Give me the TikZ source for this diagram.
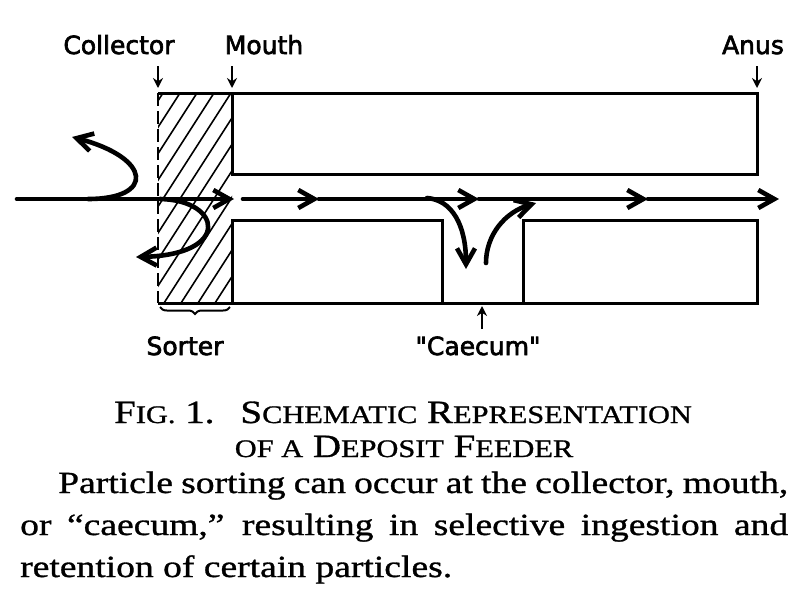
\documentclass[tikz,border=0pt]{standalone}
\usepackage{fontspec}
\setmainfont{Liberation Serif}
\newfontfamily\capfont[FakeStretch=1.2,FakeBold=1.0]{Liberation Serif}
\newfontfamily\bodyfont[FakeStretch=1.22,FakeBold=1.0]{Liberation Serif}
\newfontfamily\labfont[FakeBold=2.5]{DejaVu Sans}
\usetikzlibrary{arrows.meta,decorations.pathreplacing}
\newcommand\bigC[1]{{\fontsize{32.5}{32.5}\selectfont #1}}
\newcommand\smC[1]{{\fontsize{25.3}{25.3}\selectfont #1}}
\newcommand\tightsp{\spaceskip=0.25em plus 1em minus 0.1em\relax}
\begin{document}
\begin{tikzpicture}[x=1pt,y=-1pt,
  wall/.style={line width=3pt, line join=miter},
  flow/.style={line width=4.6pt, line cap=round, -{Straight Barb[length=16pt,width=18pt,line join=miter]}},
  pointer/.style={line width=2.8pt, -{Stealth[length=10pt,width=10pt]}},
  lab/.style={font=\labfont\fontsize{25}{25}\selectfont, inner sep=0pt, anchor=base},
  captext/.style={font=\capfont\fontsize{32.5}{32.5}\selectfont, inner sep=0pt, anchor=base},
  body/.style={font=\bodyfont\fontsize{30.8}{30.8}\selectfont, inner sep=0pt, anchor=base west}]
\path[use as bounding box] (0,0) rectangle (801,603);

% hatching of the sorter
\begin{scope}
  \clip (158,93) rectangle (232,303);
  \foreach \k in {-1,...,12}
    \draw[line width=1.6pt] (45+17*\k,303) -- ++(135,-210);
\end{scope}

% walls
\draw[wall] (158,93) -- (757,93) -- (757,174) -- (232,174) -- (232,93);
\draw[wall] (158,303) -- (757,303) -- (757,220) -- (523,220) -- (523,303);
\draw[wall] (232,303) -- (232,220) -- (442,220) -- (442,303);
\draw[line width=2.6pt, dash pattern=on 13pt off 5pt] (158,93) -- (158,303);

% main flow
\coordinate (in) at (17,199);
\coordinate (mtip) at (234,199);
\coordinate (m0) at (243,199);
\coordinate (m1) at (319,199);
\coordinate (m2) at (479,199);
\coordinate (m3) at (648,199);
\coordinate (out) at (779,199);
\draw[flow] (in) -- (mtip);
\draw[flow] (m0) -- (m1);
\draw[flow] (m1) -- (m2);
\draw[flow] (m2) -- (m3);
\draw[flow] (m3) -- (out);

% rejection loops
\coordinate (r1s) at (88,199);
\coordinate (r1e) at (72,137);
\draw[flow] (r1s) .. controls (155,199) and (152,158) .. (r1e);
\coordinate (r2s) at (160,199);
\coordinate (r2e) at (136,257);
\draw[flow] (r2s) .. controls (222,200) and (232,255) .. (r2e);

% caecum loops
\coordinate (c1s) at (427,198);
\coordinate (c1e) at (466,269);
\draw[flow] (c1s) .. controls (452,200) and (466,225) .. (c1e);
\coordinate (c2s) at (486,263);
\coordinate (c2e) at (536,203);
\draw[flow] (c2s) .. controls (486,235) and (505,212) .. (c2e);

% labels
\node[lab] (collector) at (119,54) {Collector};
\node[lab] (mouth) at (264,54) {Mouth};
\node[lab] (anus) at (753,54) {Anus};
\node[lab] (sorter) at (185,355) {Sorter};
\node[lab] (caecum) at (478,355) {"Caecum"};

\coordinate (pc1) at (158,66); \coordinate (pc2) at (158,88);
\coordinate (pm1) at (232,66); \coordinate (pm2) at (232,88);
\coordinate (pa1) at (757,66); \coordinate (pa2) at (757,88);
\coordinate (pk1) at (482,329); \coordinate (pk2) at (482,306);
\draw[pointer] (pc1) -- (pc2);
\draw[pointer] (pm1) -- (pm2);
\draw[pointer] (pa1) -- (pa2);
\draw[pointer] (pk1) -- (pk2);

\coordinate (b1) at (160,307);
\coordinate (b2) at (230,307);
\draw[line width=2pt, decorate, decoration={brace, mirror, amplitude=7pt}] (b1) -- (b2);

% caption
\node[captext] (title1) at (403,423) {\bigC{F}\smC{IG.} \bigC{1.}\hspace{26pt}\bigC{S}\smC{CHEMATIC} \bigC{R}\smC{EPRESENTATION}};
\node[captext] (title2) at (404,457) {\smC{OF A} \bigC{D}\smC{EPOSIT} \bigC{F}\smC{EEDER}};

\node[body] (p1) at (58,493) {\tightsp\makebox[730pt][s]{Particle sorting can occur at the collector, mouth,}};
\node[body] (p2) at (20,535) {\tightsp\makebox[768pt][s]{or “caecum,” resulting in selective ingestion and}};
\node[body] (p3) at (20,577) {retention of certain particles.};
\end{tikzpicture}
\end{document}
